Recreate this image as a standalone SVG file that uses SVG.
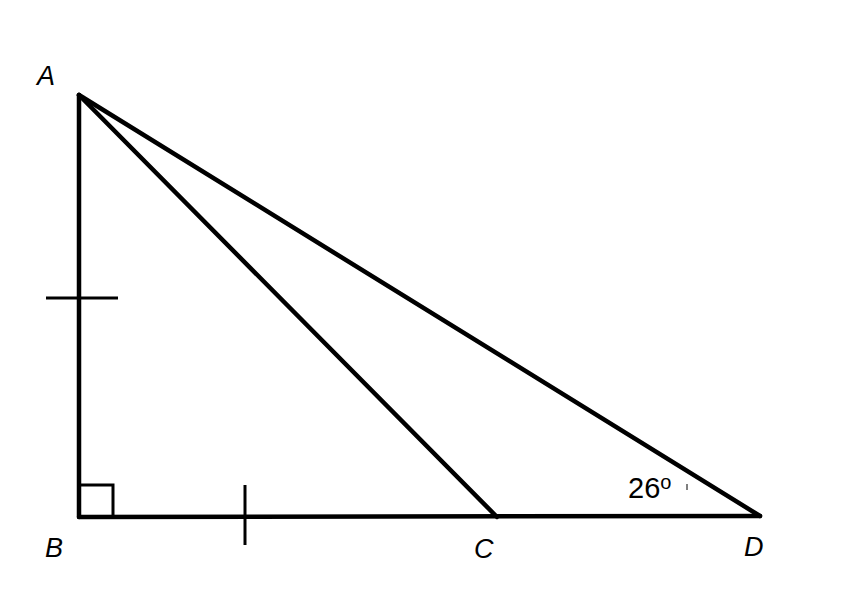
<svg xmlns="http://www.w3.org/2000/svg" width="845" height="595" viewBox="0 0 845 595">
<style>
.edge{stroke:#000;stroke-width:4.5;stroke-linecap:round;fill:none}
.mark{stroke:#000;stroke-width:3;fill:none}
.lbl{font-family:"Liberation Sans",Arial,sans-serif;font-size:27px;font-style:italic;fill:#000}
.ang{font-family:"Liberation Sans",Arial,sans-serif;font-size:29px;fill:#000}
</style>
<rect width="845" height="595" fill="#fff"/>
<g id="connectors">
<line class="edge" x1="79" y1="95" x2="79" y2="517"/>
<line class="edge" x1="79" y1="517" x2="760" y2="516"/>
<line class="edge" x1="79" y1="95" x2="497" y2="517"/>
<line class="edge" x1="79" y1="95" x2="760" y2="516"/>
</g>
<g id="marks">
<line class="mark" x1="46" y1="298" x2="118" y2="298"/>
<line class="mark" x1="245" y1="485" x2="245" y2="545"/>
<polyline class="mark" points="79,485 113,485 113,517"/>
<line x1="687" y1="484" x2="687" y2="490" stroke="#000" stroke-width="1"/>
</g>
<g id="A"><text class="lbl" x="37" y="85">A</text></g>
<g id="B"><text class="lbl" x="45" y="557">B</text></g>
<g id="C"><text class="lbl" x="474" y="558">C</text></g>
<g id="D"><text class="lbl" x="744" y="556">D</text></g>
<g id="angle"><text class="ang" x="628" y="498">26<tspan font-size="20" dy="-9">o</tspan></text></g>
</svg>
